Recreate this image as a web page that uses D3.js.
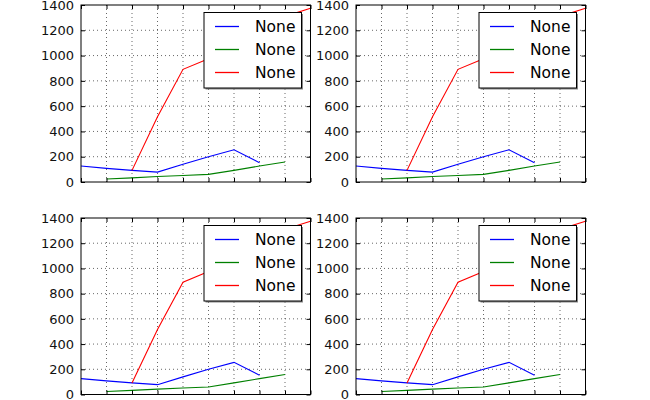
<!DOCTYPE html>
<html>
<head>
<meta charset="utf-8">
<script src="https://cdn.jsdelivr.net/npm/d3@7"></script>
<style>
  body { margin: 0; background: #fff; }
  text { font-family: "DejaVu Sans", sans-serif; }
</style>
</head>
<body>
<div id="viz"></div>
<script>
// same frame drawn four times
var xValues = [0, 1, 2, 3, 4, 5, 6, 7, 8, 9];
var blueValues  = [126, 108, 92, 78, 140, 200, 255, 153, null, null];
var greenValues = [null, 24, 33, 43, 52, 60, 92, 126, 158, null];
var redValues   = [null, null, 92, 516, 891, 975, 1090, 1200, 1310, 1375];
var yTicks = [0, 200, 400, 600, 800, 1000, 1200, 1400];
var legendLabels = ["None", "None", "None"];

var series = [
  { values: blueValues,  color: "#0000ff" },
  { values: greenValues, color: "#008000" },
  { values: redValues,   color: "#ff0000" }
];

var panels = [
  { x0: 81,  x1: 310.5, y0: 5,   y1: 182 },
  { x0: 356, x1: 585.5, y0: 5,   y1: 182 },
  { x0: 81,  x1: 310.5, y0: 218, y1: 394.5 },
  { x0: 356, x1: 585.5, y0: 218, y1: 394.5 }
];

var svg = d3.select("#viz")
    .append("svg")
    .attr("width", 650)
    .attr("height", 400);

panels.forEach(function(p, k) {
  var x = d3.scaleLinear().domain([0, 9]).range([p.x0, p.x1]);
  var y = d3.scaleLinear().domain([0, 1400]).range([p.y1, p.y0]);
  var g = svg.append("g");

  g.append("clipPath").attr("id", "clip" + k)
    .append("rect")
    .attr("x", p.x0).attr("y", p.y0)
    .attr("width", p.x1 - p.x0).attr("height", p.y1 - p.y0);

  // grid
  g.selectAll(".vg").data(xValues.slice(1, 9)).enter().append("line")
    .attr("x1", function(d) { return x(d); }).attr("x2", function(d) { return x(d); })
    .attr("y1", p.y0).attr("y2", p.y1)
    .style("stroke", "#000").style("stroke-width", 0.6)
    .style("stroke-dasharray", "1,3");
  g.selectAll(".hg").data(yTicks.slice(1, 7)).enter().append("line")
    .attr("y1", function(d) { return y(d); }).attr("y2", function(d) { return y(d); })
    .attr("x1", p.x0).attr("x2", p.x1)
    .style("stroke", "#000").style("stroke-width", 0.6)
    .style("stroke-dasharray", "1,3");

  // lines
  var line = d3.line()
    .defined(function(d) { return d.v != null; })
    .x(function(d) { return x(d.x); })
    .y(function(d) { return y(d.v); });

  series.forEach(function(s) {
    var pts = xValues.map(function(xv, i) { return { x: xv, v: s.values[i] }; });
    g.append("path")
      .datum(pts)
      .attr("d", line)
      .attr("clip-path", "url(#clip" + k + ")")
      .style("fill", "none")
      .style("stroke", s.color)
      .style("stroke-width", 1.1);
  });

  // y axis, ticks inside, plus mirrored ticks on the right
  var yAxis = d3.axisLeft(y).tickValues(yTicks).tickSizeInner(-4).tickSizeOuter(0)
    .tickPadding(7).tickFormat(d3.format("d"));
  var ya = g.append("g").attr("transform", "translate(" + p.x0 + ",0)").call(yAxis);
  ya.select(".domain").remove();
  ya.selectAll("text").style("font-size", "13px").style("fill", "#111")
    .style("font-family", "DejaVu Sans");
  var yr = g.append("g").attr("transform", "translate(" + p.x1 + ",0)")
    .call(d3.axisRight(y).tickValues(yTicks).tickSizeInner(-4).tickSizeOuter(0).tickFormat(""));
  yr.select(".domain").remove();

  var xb = g.append("g").attr("transform", "translate(0," + p.y1 + ")")
    .call(d3.axisBottom(x).tickValues(xValues).tickSizeInner(-4).tickSizeOuter(0).tickFormat(""));
  xb.select(".domain").remove();
  var xt = g.append("g").attr("transform", "translate(0," + p.y0 + ")")
    .call(d3.axisTop(x).tickValues(xValues).tickSizeInner(-4).tickSizeOuter(0).tickFormat(""));
  xt.select(".domain").remove();

  // frame
  g.append("rect")
    .attr("x", p.x0).attr("y", p.y0)
    .attr("width", p.x1 - p.x0).attr("height", p.y1 - p.y0)
    .style("fill", "none").style("stroke", "#000").style("stroke-width", 1);

  // legend
  var lx = p.x0 + 123, ly = p.y0 + 7.5;
  g.append("rect")
    .attr("x", lx + 1.5).attr("y", ly + 1.5)
    .attr("width", 97.5).attr("height", 75.5)
    .style("fill", "#888");
  g.append("rect")
    .attr("x", lx).attr("y", ly)
    .attr("width", 97.5).attr("height", 75.5)
    .style("fill", "#fff").style("stroke", "#000").style("stroke-width", 1);

  legendLabels.forEach(function(lab, i) {
    var cy = ly + 14 + i * 23;
    g.append("line")
      .attr("x1", lx + 11).attr("x2", lx + 35)
      .attr("y1", cy).attr("y2", cy)
      .style("stroke", series[i].color).style("stroke-width", 1.3);
    g.append("text")
      .attr("x", lx + 51).attr("y", cy)
      .attr("dy", "0.36em")
      .style("font-size", "15.5px")
      .style("fill", "#000")
      .text(lab);
  });
});
</script>
</body>
</html>
